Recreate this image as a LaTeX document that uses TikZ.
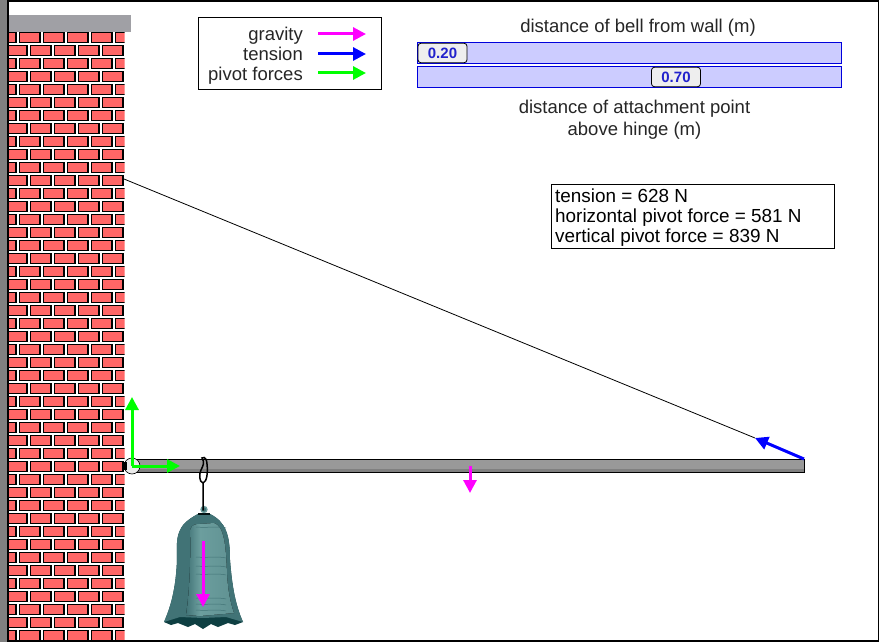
\documentclass[tikz,border=0pt]{standalone}
\usepackage{fontspec}
\setmainfont{Liberation Sans}
\usetikzlibrary{arrows.meta,positioning}
\definecolor{brickred}{HTML}{FF6666}
\definecolor{capgray}{HTML}{A0A0A5}
\definecolor{trackblue}{HTML}{CCCCFF}
\definecolor{thumbgray}{HTML}{EEEEEE}
\definecolor{beamtop}{HTML}{999999}
\definecolor{beamlow}{HTML}{808080}
\definecolor{bellmid}{HTML}{417376}
\definecolor{belllight}{HTML}{6C9E9E}
\definecolor{belldark}{HTML}{0E3F42}
\definecolor{gravitypink}{RGB}{255,0,255}
\definecolor{tensionblue}{RGB}{0,0,255}
\definecolor{pivotgreen}{RGB}{0,255,0}
\definecolor{thumbtext}{RGB}{34,34,204}
\definecolor{trackedge}{RGB}{0,0,220}
\tikzset{
    brick/.style ={
        draw=black,
        line width=1.1pt,
        fill=brickred
    },
    caption/.style ={
        font=\fontsize{18.5}{20}\selectfont,
        text=black!85,
        inner sep=0pt
    },
    readoutline/.style ={
        font=\fontsize{18.9}{20}\selectfont,
        text=black,
        inner sep=0pt,
        anchor=base west
    },
    track/.style ={
        draw=trackedge,
        line width=0.8pt,
        fill=trackblue
    },
    thumb/.style ={
        draw=black,
        line width=0.8pt,
        fill=thumbgray,
        rounded corners=3pt,
        minimum width=49pt,
        minimum height=19.5pt,
        inner sep=0pt,
        text=thumbtext,
        font=\fontsize{15}{16}\selectfont\bfseries
    },
    force/.style ={
        line width=3pt,
        -{Triangle[length=13pt,width=13pt]}
    }
}

\begin{document}
\begin{tikzpicture}[x=1pt,y=-1pt]
    \useasboundingbox (0,0) rectangle (879,642);
    \fill[white] (0,0) rectangle (879,642);
    % wall
    \begin{scope}
        \clip (9,32) rectangle (124.6,642);
        \foreach \r in {0,...,46} {
            \pgfmathsetmacro{\y}{32+13*\r}
            \pgfmathsetmacro{\s}{mod(\r,2)==0 ? -5 : 6}
            \foreach \c in {0,...,5} {
                \draw[brick] ({\s+24*\c+0.6},\y+0.8) rectangle ({\s+24*\c+21},\y+10.3);
            }
        }
    \end{scope}
    \fill[capgray] (9,15) rectangle (131,32);
    % frame
    \fill[black!50] (0,0) rectangle (7,642);
    \draw[line width=2pt] (8,642) -- (8,1) -- (879,1);
    \draw[line width=1.5pt] (8,641.2) -- (879,641.2);
    \draw[line width=1pt] (878.5,1) -- (878.5,642);
    % beam
    \fill[beamtop] (132,459.5) rectangle (804,468.5);
    \fill[beamlow] (132,468.5) rectangle (804,472.5);
    \draw[line width=1pt] (132,459.5) rectangle (804,472.5);
    \node[circle,draw=black,line width=0.6pt,fill=black!8,minimum size=16pt,inner sep=0pt] (hinge) at (132,466) {};
    \fill[black] (124,462) rectangle (127,470);
    % cable
    \coordinate (wallpoint) at (124,179);
    \coordinate (beamend) at (804,459);
    \coordinate (cableend) at (755,438);
    \draw[line width=0.8pt] (wallpoint) -- (cableend);
    % bell
    \fill[belldark] (164,622) .. controls (172,604) and (176,585) .. (177,560)
        .. controls (176,535) and (177,525) .. (198,514) -- (210,514)
        .. controls (226,522) and (230,535) .. (230,560)
        .. controls (232,585) and (235,604) .. (243,622)
        -- (235,625) -- (228,623) -- (218,627) -- (211,624) -- (203,629) -- (195,624)
        -- (188,627) -- (178,623) -- (171,625) -- cycle;
    \fill[bellmid] (164,622) .. controls (172,604) and (176,585) .. (177,560)
        .. controls (176,535) and (177,525) .. (198,514) -- (210,514)
        .. controls (226,522) and (230,535) .. (230,560)
        .. controls (232,585) and (235,604) .. (243,622)
        -- (226,617) -- (203,618) -- (180,617) -- cycle;
    \fill[left color=bellmid,right color=belllight] (190,530) .. controls (192,524) and (196,524) .. (200,524)
        -- (200,616) -- (186,615) .. controls (190,590) and (191,550) .. (190,530) -- cycle;
    \fill[left color=belllight,right color=belllight!70!bellmid] (200,524) -- (214,523)
        .. controls (224,526) and (226,545) .. (227,575)
        .. controls (228,590) and (230,602) .. (234,613) -- (200,616) -- cycle;
    \foreach \y in {527,557,566,574,598,604,610} {
        \draw[bellmid,line width=0.5pt] (196,\y) .. controls (208,\y+1) and (218,\y-1) .. (226,\y+1);
    }
    \fill[black!70!belldark] (198,512.5) rectangle (210,515);
    \draw[belllight,line width=1.3pt,fill=bellmid] (204,509.5) circle (3pt);
    % hook
    \draw[line width=1.5pt,line cap=round] (203,510) -- (203,483)
        .. controls (199,482) and (199,474) .. (201,470)
        .. controls (203,466) and (205,462) .. (202,458)
        .. controls (205,456) and (207,460) .. (207,464)
        .. controls (208,472) and (207,482) .. (203,483);
    % forces
    \coordinate (pivotup) at (132,397);
    \coordinate (pivotright) at (180,466);
    \coordinate (beamcentre) at (470,466);
    \coordinate (beamload) at (470,493);
    \coordinate (bellcentre) at (203,541);
    \coordinate (bellload) at (203,607);
    \draw[force,pivotgreen] (hinge.center) -- (pivotup);
    \draw[force,pivotgreen] (hinge.center) -- (pivotright);
    \draw[force,gravitypink] (beamcentre) -- (beamload);
    \draw[force,gravitypink] (bellcentre) -- (bellload);
    \draw[force,tensionblue] (beamend) -- (cableend);
    % legend
    \node[draw=black,line width=0.8pt,minimum width=183pt,minimum height=72pt,inner sep=0pt] (legend) at (289.5,53) {};
    \node[caption,anchor=base east] (gravitytext) at (303,41) {gravity};
    \node[caption,anchor=base east] (tensiontext) at (303,61) {tension};
    \node[caption,anchor=base east] (pivottext) at (303,81) {pivot forces};
    \coordinate (gravitykey) at (366,34);
    \coordinate (tensionkey) at (366,54);
    \coordinate (pivotkey) at (366,73);
    \draw[force,gravitypink] (318,34) -- (gravitykey);
    \draw[force,tensionblue] (318,54) -- (tensionkey);
    \draw[force,pivotgreen] (318,73) -- (pivotkey);
    % sliders
    \node[caption] (belltitle) at (638,27.5) {distance of bell from wall (m)};
    \draw[track] (417.5,42.5) rectangle (841.5,63.5);
    \draw[track] (417.5,66.5) rectangle (841.5,87.5);
    \node[thumb] (bellthumb) at (442.5,53) {0.20};
    \node[thumb] (attachthumb) at (676,77) {0.70};
    \node[caption] (attachtitle) at (634.5,108.5) {distance of attachment point};
    \node[caption] (attachtitletwo) at (634.5,130.5) {above hinge (m)};
    % readout
    \node[draw=black,line width=0.8pt,minimum width=283pt,minimum height=64pt,inner sep=0pt] (readout) at (692.5,216) {};
    \node[readoutline] (tensionvalue) at (555,202) {tension = 628 N};
    \node[readoutline] (horizontalvalue) at (555,222) {horizontal pivot force = 581 N};
    \node[readoutline] (verticalvalue) at (555,242) {vertical pivot force = 839 N};
\end{tikzpicture}
\end{document}
